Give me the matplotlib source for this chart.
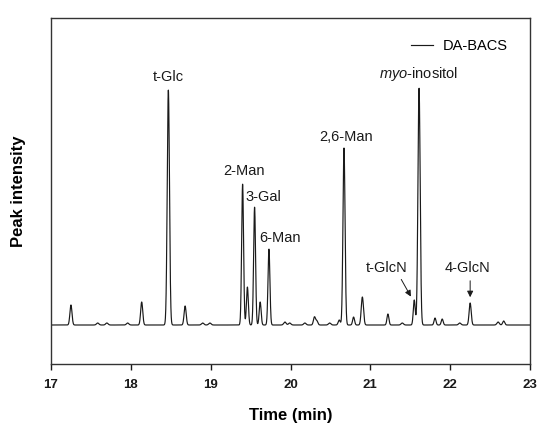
import numpy as np
import matplotlib.pyplot as plt

plt.rcParams['font.family'] = ['Liberation Sans', 'DejaVu Sans']
plt.rcParams['mathtext.fontset'] = 'custom'
plt.rcParams['mathtext.rm'] = 'Liberation Sans'
plt.rcParams['mathtext.it'] = 'Liberation Sans:italic'

# GC peaks: retention time (min), height (a.u.), width (min)
peak_time = [17.25, 17.585, 17.70, 17.96, 18.136, 18.47, 18.68, 18.90, 18.99,
             19.40, 19.46, 19.55, 19.62, 19.73, 19.93, 19.99, 20.18, 20.30, 20.33,
             20.49, 20.61, 20.67, 20.79, 20.90, 21.22, 21.40, 21.55, 21.61, 21.81,
             21.90, 22.12, 22.25, 22.60, 22.67]
peak_height = [20, 2, 2, 2, 23, 235, 19, 2, 2,
               141, 38, 118, 23, 76, 3, 2, 2, 8, 4,
               2, 5, 177, 8, 28, 11, 2, 25, 237, 7,
               6, 2, 22, 3, 4]
peak_width = [0.013, 0.015, 0.015, 0.015, 0.013, 0.014, 0.013, 0.015, 0.015,
              0.012, 0.012, 0.012, 0.012, 0.012, 0.015, 0.015, 0.015, 0.013, 0.013,
              0.015, 0.013, 0.013, 0.012, 0.014, 0.012, 0.015, 0.012, 0.014, 0.012,
              0.012, 0.015, 0.013, 0.015, 0.013]

# peak labels: text, x, y (data units)
labels = ["t-Glc", "2-Man", "3-Gal", "6-Man", "2,6-Man", r"$\mathit{myo}$-inositol"]
label_x = [18.47, 19.42, 19.66, 19.87, 20.69, 21.61]
label_y = [248, 154, 128, 87, 188, 251]

# arrowed labels: text, text pos, arrow tip
arrow_labels = ["t-GlcN", "4-GlcN"]
arrow_text_x = [21.21, 22.22]
arrow_text_y = [57, 57]
arrow_from = [(21.37, 48), (22.25, 47)]
arrow_tip = [(21.525, 26), (22.25, 25)]

t = np.linspace(17, 23, 4000)
signal = np.zeros_like(t)
for t0, h, w in zip(peak_time, peak_height, peak_width):
    signal += h * np.exp(-0.5 * ((t - t0) / w) ** 2)

fig = plt.figure(figsize=(5.5, 4.3), dpi=100)
ax = fig.add_axes([0.0927, 0.1535, 0.871, 0.8045])

ink = '#1a1a1a'
ax.plot(t, signal, color=ink, lw=0.85, label='DA-BACS')

for txt, x, y in zip(labels, label_x, label_y):
    ax.text(x, y, txt, ha='center', va='center', fontsize=10.5, color=ink)

for txt, x, y, p0, p1 in zip(arrow_labels, arrow_text_x, arrow_text_y, arrow_from, arrow_tip):
    ax.text(x, y, txt, ha='center', va='center', fontsize=10.5, color=ink)
    ax.annotate("", xy=p1, xytext=p0,
                arrowprops=dict(arrowstyle='-|>', color=ink, lw=0.7, mutation_scale=9))

ax.set_xlim(17, 23)
ax.set_ylim(-39, 307)
ax.set_xticks(range(17, 24))
ax.set_yticks([])
ax.tick_params(axis='x', direction='out', length=4, width=1, pad=7,
               labelsize=9.5, colors=ink)
for lab in ax.get_xticklabels():
    lab.set_fontweight('bold')
for s in ax.spines.values():
    s.set_linewidth(1.0)
    s.set_color('#333333')

ax.set_xlabel("Time (min)", fontsize=12, fontweight='bold', labelpad=12)
ax.set_ylabel("Peak intensity", fontsize=12, fontweight='bold', labelpad=18)

ax.legend(loc='upper right', bbox_to_anchor=(0.954, 0.94), frameon=False,
          fontsize=10.5, handlelength=1.5, handletextpad=0.7,
          borderpad=0, borderaxespad=0)

fig.savefig("out.png", dpi=100)
